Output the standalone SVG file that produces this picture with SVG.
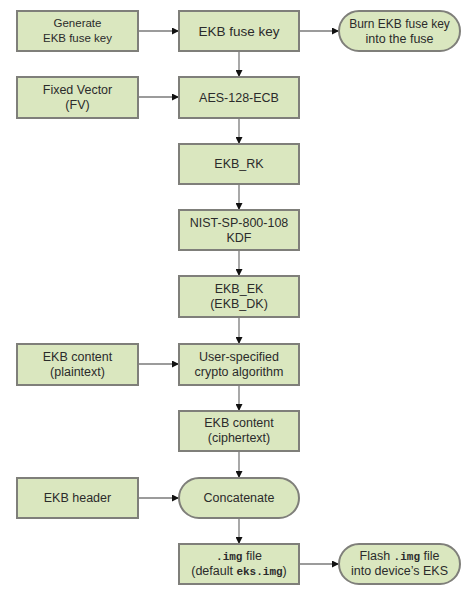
<svg xmlns="http://www.w3.org/2000/svg" width="474" height="606" viewBox="0 0 474 606">
<defs>
<marker id="ah" viewBox="0 0 10 10" refX="10" refY="5" markerWidth="7" markerHeight="7" orient="auto" markerUnits="userSpaceOnUse">
<path d="M0,0 L10,5 L0,10 z" fill="#111"/>
</marker>
<style>
.n{fill:#dae7bf;stroke:#7f7f7a;stroke-width:2}
.t{font-family:"Liberation Sans","Noto Sans",sans-serif;font-size:12.5px;fill:#2b2b2b;text-anchor:middle}
.s{font-size:11.5px}
.m{font-family:"Liberation Mono","DejaVu Sans Mono",monospace;font-weight:bold;font-size:11px}
.c{stroke:#7a7a7a;stroke-width:1.3;fill:none;marker-end:url(#ah)}
</style>
</defs>
<rect width="474" height="606" fill="#fff"/>
<g id="connectors">
<line class="c" x1="138" y1="31" x2="179" y2="31"/>
<line class="c" x1="299" y1="31" x2="339" y2="31"/>
<line class="c" x1="239" y1="51" x2="239" y2="77"/>
<line class="c" x1="138" y1="97" x2="179" y2="97"/>
<line class="c" x1="239" y1="118" x2="239" y2="144"/>
<line class="c" x1="239" y1="184" x2="239" y2="210"/>
<line class="c" x1="239" y1="250" x2="239" y2="276"/>
<line class="c" x1="239" y1="317" x2="239" y2="344"/>
<line class="c" x1="138" y1="364" x2="179" y2="364"/>
<line class="c" x1="239" y1="385" x2="239" y2="411"/>
<line class="c" x1="239" y1="451" x2="239" y2="478"/>
<line class="c" x1="138" y1="498" x2="179" y2="498"/>
<line class="c" x1="239" y1="518" x2="239" y2="544"/>
<line class="c" x1="299" y1="564" x2="339" y2="564"/>
</g>
<g id="gen"><rect class="n" x="17" y="11" width="121" height="40"/><text class="t s" x="77.5" y="27">Generate</text><text class="t s" x="77.5" y="42">EKB fuse key</text></g>
<g id="fusekey"><rect class="n" x="179" y="11" width="120" height="40"/><text class="t" x="239" y="35.5" style="font-size:13.5px">EKB fuse key</text></g>
<g id="burn"><rect class="n" x="339" y="11" width="121" height="40" rx="20"/><text class="t" x="399.5" y="27.5" style="font-size:12px">Burn EKB fuse key</text><text class="t" x="399.5" y="42.5">into the fuse</text></g>
<g id="fv"><rect class="n" x="17" y="77" width="121" height="41"/><text class="t" x="77.5" y="93.5">Fixed Vector</text><text class="t" x="77.5" y="108.5">(FV)</text></g>
<g id="aes"><rect class="n" x="179" y="77" width="120" height="41"/><text class="t" x="239" y="101.5">AES-128-ECB</text></g>
<g id="rk"><rect class="n" x="179" y="144" width="120" height="40"/><text class="t" x="239" y="168">EKB_RK</text></g>
<g id="kdf"><rect class="n" x="179" y="210" width="120" height="40"/><text class="t" x="239" y="226.5">NIST-SP-800-108</text><text class="t" x="239" y="241.5">KDF</text></g>
<g id="ek"><rect class="n" x="179" y="276" width="120" height="41"/><text class="t" x="239" y="293">EKB_EK</text><text class="t" x="239" y="308">(EKB_DK)</text></g>
<g id="plain"><rect class="n" x="17" y="344" width="121" height="41"/><text class="t" x="77.5" y="360.5">EKB content</text><text class="t" x="77.5" y="375.5">(plaintext)</text></g>
<g id="algo"><rect class="n" x="179" y="344" width="120" height="41"/><text class="t" x="239" y="360.5">User-specified</text><text class="t" x="239" y="375.5">crypto algorithm</text></g>
<g id="cipher"><rect class="n" x="179" y="411" width="120" height="40"/><text class="t" x="239" y="427">EKB content</text><text class="t" x="239" y="442">(ciphertext)</text></g>
<g id="header"><rect class="n" x="17" y="478" width="121" height="40"/><text class="t" x="77.5" y="502">EKB header</text></g>
<g id="concat"><rect class="n" x="179" y="478" width="120" height="40" rx="20"/><text class="t" x="239" y="502">Concatenate</text></g>
<g id="img"><rect class="n" x="179" y="544" width="120" height="40"/><text class="t" x="239" y="560"><tspan class="m">.img</tspan> file</text><text class="t" x="239" y="575">(default <tspan class="m">eks.img</tspan>)</text></g>
<g id="flash"><rect class="n" x="339" y="544" width="121" height="40" rx="20"/><text class="t" x="399.5" y="560">Flash <tspan class="m">.img</tspan> file</text><text class="t" x="399.5" y="575">into device’s EKS</text></g>
</svg>
